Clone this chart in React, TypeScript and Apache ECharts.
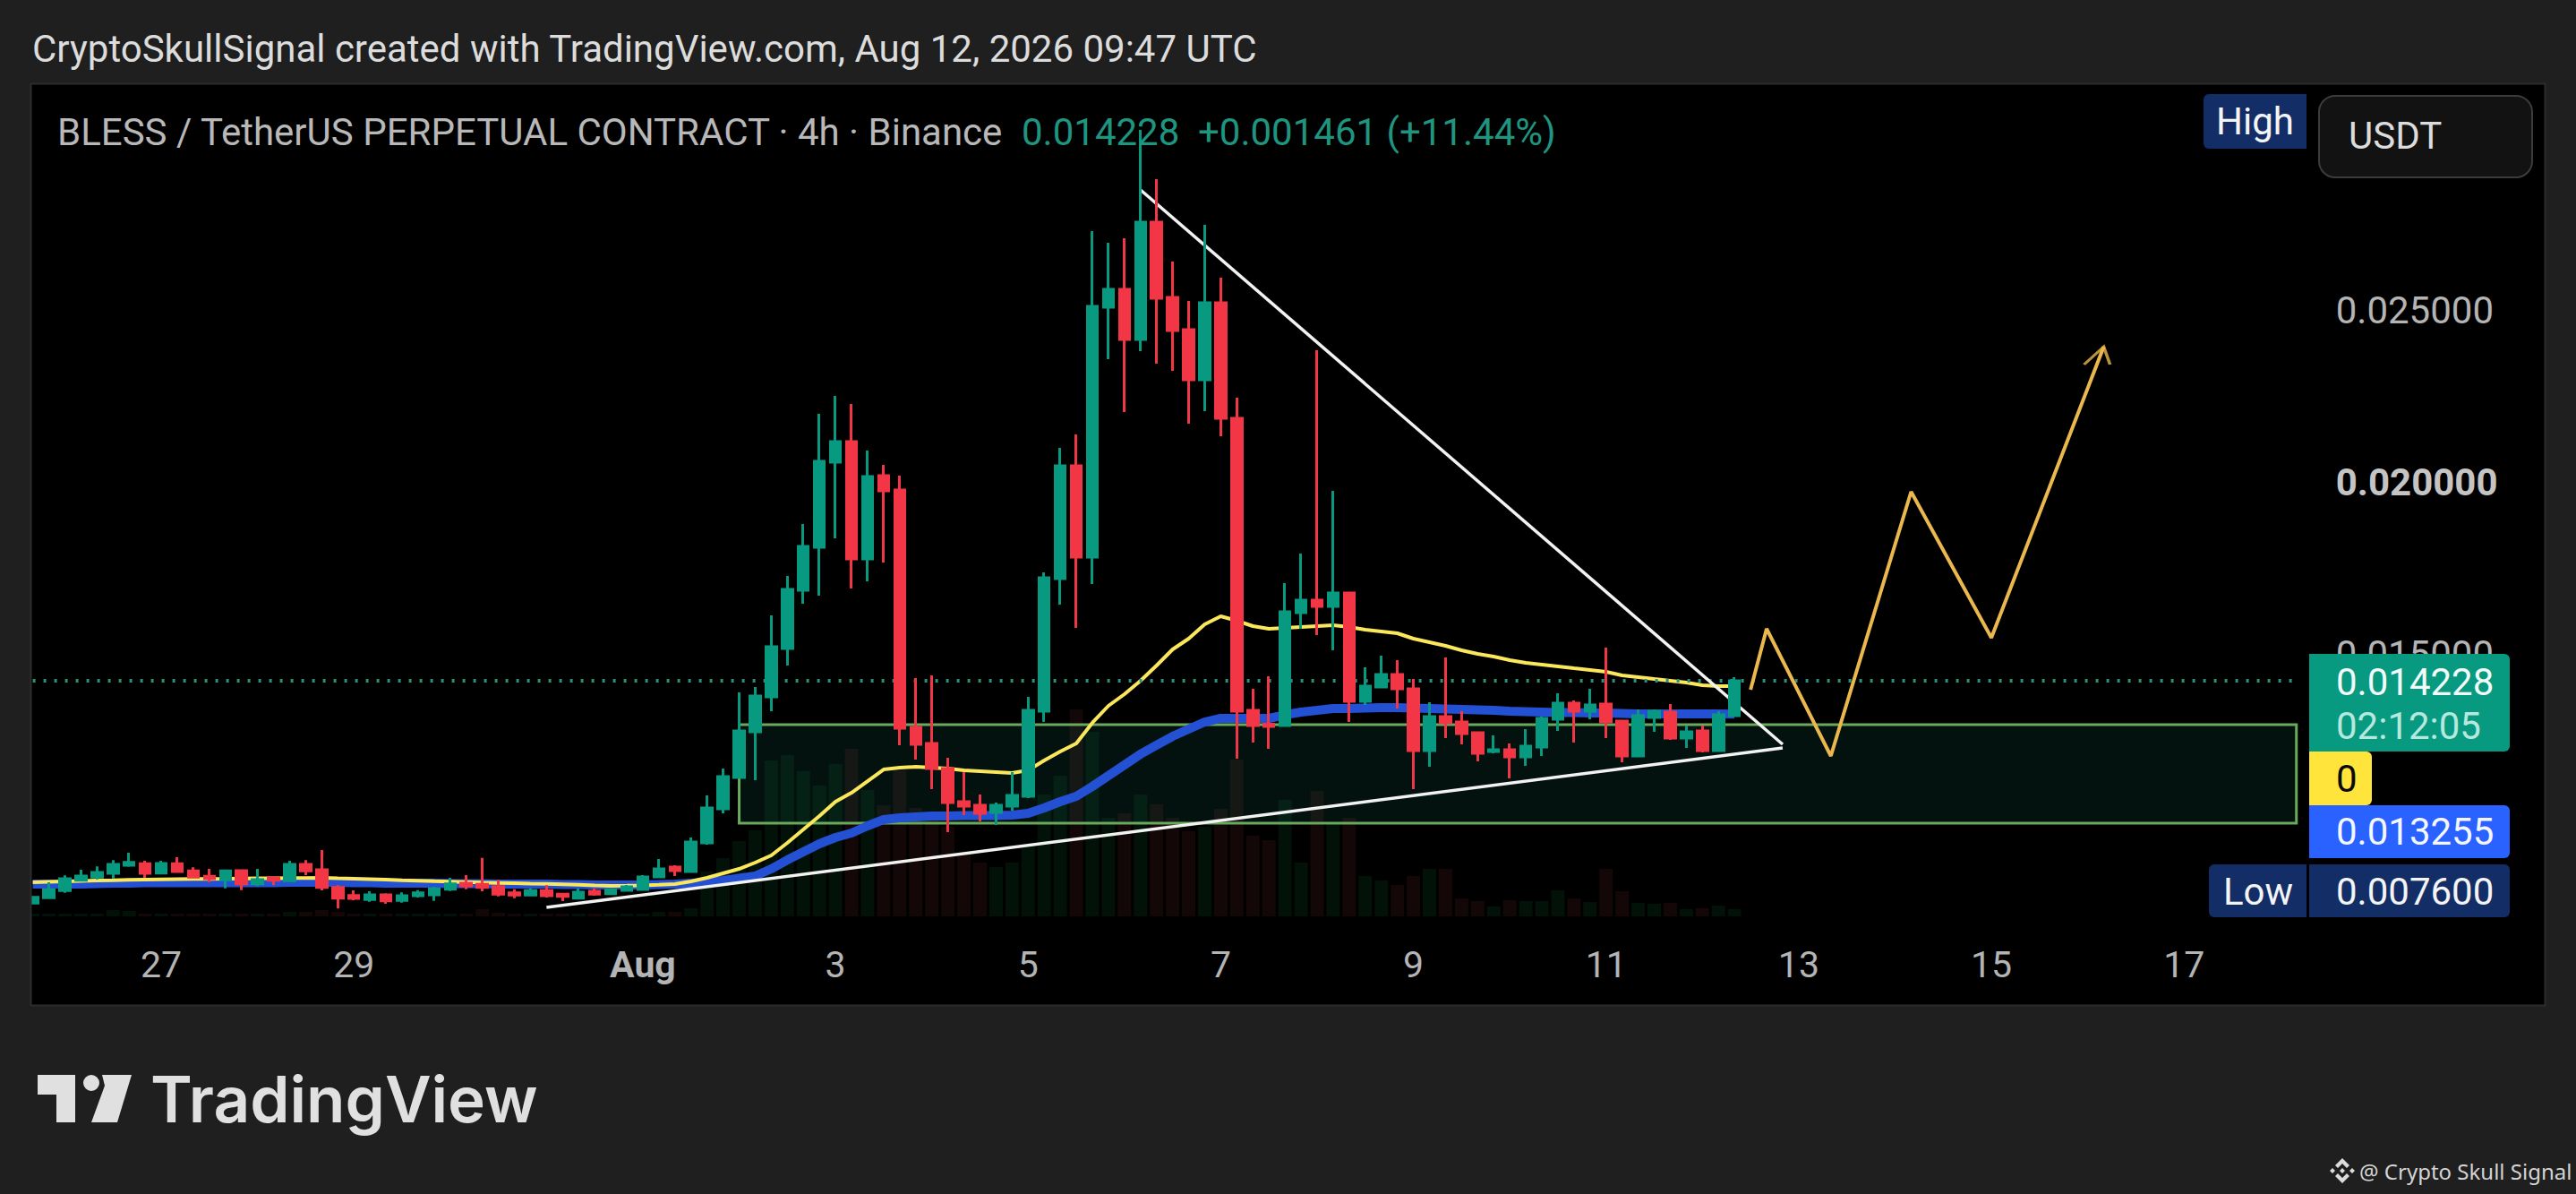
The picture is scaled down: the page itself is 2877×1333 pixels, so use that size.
import React, { useEffect, useRef } from "react";
import * as echarts from "echarts";

// Prices are in millionths of a USDT (1e-6).
const opens = [
  7753, 7909, 8118, 8422, 8509, 8622, 8857, 8900, 8631, 8900,
  8692, 8535, 8431, 8700, 8318, 8492, 8405, 8883, 8726, 8214,
  7979, 7857, 7996, 7831, 7970, 7996, 8161, 8335, 8300, 8231,
  8057, 7987, 8118, 8014, 7901, 8100, 8031, 8126, 8153, 8518,
  8805, 8674, 9509, 10500, 11413, 12743, 13760, 15168, 16863, 18115,
  20593, 21193, 17776, 20202, 19784, 12873, 12404, 11674, 10708, 10604,
  10395, 10578, 10865, 13342, 17202, 20488, 17828, 25105, 25626, 24166,
  27582, 25391, 24453, 22992, 25235, 21871, 13369, 12965, 12925, 16211,
  16576, 16394, 16785, 13629, 14047, 14412, 13995, 12195, 13186, 13029,
  12717, 12169, 12221, 12012, 12299, 13108, 13577, 13342, 13551, 13056,
  12038, 13160, 13316, 12560, 12769, 12195, 13212,
];
const closes = [
  7927, 8144, 8466, 8544, 8648, 8883, 8944, 8622, 8909, 8674,
  8509, 8466, 8692, 8318, 8440, 8422, 8883, 8692, 8214, 7901,
  7892, 7996, 7822, 7970, 8057, 8170, 8318, 8248, 8214, 8014,
  7987, 8118, 7970, 7953, 8074, 8014, 8144, 8231, 8518, 8752,
  8700, 9535, 10526, 11439, 12769, 13786, 15220, 16889, 18141, 20619,
  21193, 17776, 20176, 19758, 12847, 12378, 11674, 10682, 10578, 10369,
  10604, 10891, 13369, 17228, 20488, 17828, 25131, 25626, 24166, 27582,
  25365, 24427, 22992, 25235, 21871, 13342, 12925, 12900, 16237, 16576,
  16394, 16785, 13629, 14073, 14412, 13995, 12195, 13186, 13003, 12691,
  12117, 12221, 12012, 12325, 13134, 13577, 13342, 13525, 13029, 12038,
  13212, 13342, 12560, 12743, 12195, 13238, 14228,
];
const lows = [
  7753, 7901, 8057, 8405, 8448, 8466, 8813, 8492, 8622, 8657,
  8492, 8361, 8187, 8135, 8248, 8274, 8405, 8570, 8127, 7600,
  7840, 7796, 7735, 7770, 7918, 7822, 8109, 8161, 8100, 7953,
  7901, 7970, 7918, 7814, 7883, 7970, 8005, 8100, 8140, 8492,
  8544, 8660, 9456, 10369, 11413, 11334, 13342, 14673, 16472, 16707,
  18376, 16915, 17124, 17672, 12351, 11934, 11074, 9822, 10317, 10135,
  10030, 10448, 10812, 13029, 16446, 15768, 17046, 23592, 22053, 23827,
  23462, 23253, 21714, 22079, 21349, 11962, 12430, 12247, 12925, 15742,
  15560, 15116, 13029, 13525, 14021, 13421, 11074, 11726, 12560, 12378,
  11882, 12117, 11387, 11752, 12038, 12769, 12430, 13108, 12560, 11856,
  12038, 12743, 12508, 12273, 12143, 12195, 13186,
];
const highs = [
  7927, 8361, 8561, 8726, 8822, 9005, 9222, 8987, 8987, 9091,
  8796, 8752, 8726, 8718, 8752, 8535, 8987, 9005, 9300, 8274,
  8127, 8100, 8040, 8066, 8135, 8231, 8492, 8570, 9074, 8431,
  8161, 8187, 8274, 8040, 8187, 8187, 8187, 8283, 8570, 9039,
  8857, 9665, 10891, 11674, 13890, 14047, 16133, 17281, 18793, 22001,
  22523, 22288, 20932, 20514, 20202, 14307, 14386, 11986, 11569, 10917,
  10682, 11569, 13760, 17385, 21010, 21401, 27321, 26982, 27113, 30268,
  28834, 26435, 25287, 27504, 25965, 22471, 13995, 14360, 17072, 17933,
  23853, 19758, 16785, 14620, 14959, 14829, 14281, 13603, 14907, 13342,
  12717, 12638, 12404, 12821, 13186, 13864, 13655, 13995, 15194, 13056,
  13395, 13395, 13551, 12925, 12925, 13342, 14334,
];
const blueAverage = [
  8309, 8309, 8309, 8309, 8322, 8335, 8335, 8348, 8348, 8348,
  8348, 8348, 8348, 8348, 8348, 8348, 8361, 8361, 8361, 8361,
  8348, 8348, 8335, 8335, 8335, 8335, 8322, 8322, 8322, 8309,
  8309, 8309, 8309, 8296, 8296, 8283, 8283, 8283, 8283, 8296,
  8309, 8335, 8361, 8413, 8479, 8544, 8752, 9013, 9248, 9483,
  9665, 9796, 10004, 10187, 10239, 10265, 10291, 10291, 10304, 10304,
  10304, 10317, 10369, 10526, 10708, 10865, 11152, 11465, 11778, 12091,
  12352, 12612, 12821, 13029, 13134, 13134, 13134, 13134, 13238, 13316,
  13368, 13421, 13421, 13434, 13447, 13447, 13434, 13421, 13408, 13395,
  13382, 13368, 13342, 13329, 13316, 13303, 13303, 13290, 13290, 13277,
  13264, 13264, 13264, 13264, 13264, 13264, 13255,
];
const yellowAverage = [
  8361, 8374, 8387, 8400, 8413, 8421, 8431, 8439, 8447, 8452,
  8457, 8460, 8465, 8471, 8476, 8478, 8484, 8487, 8492, 8478,
  8465, 8452, 8439, 8423, 8408, 8392, 8379, 8366, 8353, 8345,
  8335, 8324, 8314, 8303, 8290, 8272, 8257, 8262, 8272, 8288,
  8309, 8387, 8492, 8622, 8752, 8935, 9144, 9509, 9899, 10291,
  10708, 10969, 11308, 11647, 11699, 11725, 11699, 11673, 11621, 11595,
  11569, 11543, 11621, 11908, 12169, 12404, 13004, 13499, 13838, 14229,
  14673, 15142, 15455, 15872, 16107, 15977, 15820, 15742, 15768, 15794,
  15820, 15846, 15794, 15716, 15664, 15611, 15455, 15351, 15247, 15116,
  15012, 14934, 14829, 14751, 14699, 14647, 14594, 14542, 14490, 14386,
  14334, 14281, 14229, 14177, 14099, 14073, 14073,
];
const volumes = [
  3, 3, 3, 3, 3, 7, 6, 3, 3, 3,
  3, 3, 3, 3, 3, 3, 5, 5, 7, 5,
  3, 3, 3, 3, 3, 3, 3, 3, 8, 4,
  3, 3, 3, 3, 3, 3, 3, 3, 3, 5,
  5, 9, 50, 65, 84, 96, 174, 180, 162, 146,
  170, 187, 141, 124, 163, 121, 116, 100, 70, 60,
  55, 60, 80, 136, 157, 231, 206, 110, 115, 136,
  125, 110, 95, 100, 120, 175, 90, 85, 130, 60,
  140, 105, 110, 45, 40, 35, 45, 53, 53, 20,
  17, 11, 18, 17, 17, 29, 20, 16, 53, 28,
  15, 14, 15, 8, 9, 12, 8,
];
const lastPrice = 14228;
const boxPriceTop = 12950;
const boxPriceBottom = 10080;
const boxFromIndex = 44;
const boxToIndex = 141;
const fallingTrend = [[69, 28521], [109, 12378]];
const risingTrend = [[32, 7631], [109, 12273]];
const projection = [[107, 13968], [108, 15742], [112, 12038], [117, 19732], [122, 15481], [129, 23957]];
const projectionTip = [[129, 23957]];
const dayLabels: Record<number, string> = {
  8: "27", 20: "29", 38: "Aug", 50: "3", 62: "5", 74: "7", 86: "9", 98: "11", 110: "13", 122: "15", 134: "17",
};
const priceTicks = [15000, 20000, 25000];
const title = "CryptoSkullSignal created with TradingView.com, Aug 12, 2026 09:47 UTC";
const legendName = "BLESS / TetherUS PERPETUAL CONTRACT · 4h · Binance";
const legendPrice = "0.014228";
const legendChange = "+0.001461 (+11.44%)";

const BAND_COUNT = 142;
const BAND = 17.93;
const GRID_LEFT = 27.64;
const categories = Array.from({ length: BAND_COUNT }, (_, i) => String(i));
const FONT = "Roboto";
const BG = "#1f1f1f";
const GREEN = "#089981";
const RED = "#f23645";

echarts.graphic.registerShape(
  "tvLogo",
  echarts.graphic.extendPath(
    "M0 0H42V53H21V22H0ZM51 9a9 9 0 1 0 18 0a9 9 0 1 0 -18 0ZM72 0H105L89 53H60L75 12Z",
    {},
  ),
);
echarts.graphic.registerShape(
  "binanceLogo",
  echarts.graphic.extendPath(
    "M14 11l3 3-3 3-3-3ZM3 11l3 3-3 3-3-3ZM25 11l3 3-3 3-3-3ZM14 0l8 8-3 3-5-5-5 5-3-3ZM14 28l8-8-3-3-5 5-5-5-3 3Z",
    {},
  ),
);

const rect = (x: number, y: number, w: number, h: number, fill: string, r: any = 0, z = 100) => ({
  type: "rect",
  z,
  silent: true,
  shape: { x, y, width: w, height: h, r },
  style: { fill },
});
const text = (
  x: number,
  y: number,
  t: string,
  fill: string,
  fontSize = 42,
  extra: any = {},
  z = 110,
) => ({
  type: "text",
  z,
  silent: true,
  x,
  y,
  style: {
    text: t,
    fill,
    fontFamily: FONT,
    fontSize,
    textAlign: "left",
    textVerticalAlign: "middle",
    verticalAlign: "middle",
    ...extra,
  },
});

function buildOption() {
  const candleData = opens.map((o, i) => [o, closes[i], lows[i], highs[i]]);
  const volumeData = volumes.map((v, i) => ({
    value: v,
    itemStyle: { color: closes[i] >= opens[i] ? "#021209" : "#140707" },
  }));
  return {
    animation: false,
    backgroundColor: BG,
    textStyle: { fontFamily: FONT },
    grid: [
      { left: GRID_LEFT, top: 94, width: BAND * BAND_COUNT, height: 946 },
      { left: GRID_LEFT, top: 723, width: BAND * BAND_COUNT, height: 300 },
    ],
    xAxis: [
      {
        type: "category",
        gridIndex: 0,
        data: categories,
        axisLine: { show: false },
        axisTick: { show: false },
        splitLine: { show: false },
        axisLabel: {
          interval: (i: number) => dayLabels[i] !== undefined,
          formatter: (_: string, i: number) =>
            dayLabels[i] === "Aug" ? `{b|${dayLabels[i]}}` : dayLabels[i] ?? "",
          color: "#b4b4b4",
          fontFamily: FONT,
          fontSize: 41,
          margin: 16,
          hideOverlap: false,
          rich: { b: { fontFamily: FONT, fontSize: 41, fontWeight: "bold", color: "#b4b4b4" } },
        },
      },
      { type: "category", gridIndex: 1, data: categories, show: false },
    ],
    yAxis: [
      {
        type: "value",
        gridIndex: 0,
        position: "right",
        min: 6927,
        max: 31598,
        axisLine: { show: false },
        axisTick: { show: false },
        splitLine: { show: false },
        axisLabel: {
          customValues: priceTicks,
          formatter: (v: number) => {
            const s = (v / 1e6).toFixed(6);
            return v === 20000 ? `{b|${s}}` : s;
          },
          color: "#b4b4b4",
          fontFamily: FONT,
          fontSize: 42,
          margin: 35,
          rich: { b: { fontFamily: FONT, fontSize: 42, fontWeight: "bold", color: "#c4c4c4" } },
        },
      },
      { type: "value", gridIndex: 1, position: "right", min: 0, max: 300, show: false },
    ],
    series: [
      {
        name: "Volume",
        type: "bar",
        xAxisIndex: 1,
        yAxisIndex: 1,
        barWidth: 15,
        z: 0,
        silent: true,
        data: volumeData,
      },
      {
        name: "Slow average",
        type: "line",
        xAxisIndex: 0,
        yAxisIndex: 0,
        z: 2,
        symbol: "none",
        silent: true,
        lineStyle: { color: "#2450d4", width: 10 },
        data: blueAverage,
        markArea: {
          silent: true,
          z: 1,
          itemStyle: { color: "rgba(30,150,120,0.12)", borderColor: "#69a95b", borderWidth: 3 },
          data: [
            [
              { xAxis: boxFromIndex, yAxis: boxPriceTop },
              { xAxis: boxToIndex, yAxis: boxPriceBottom },
            ],
          ],
        },
      },
      {
        name: "Fast average",
        type: "line",
        xAxisIndex: 0,
        yAxisIndex: 0,
        z: 3,
        symbol: "none",
        silent: true,
        lineStyle: { color: "#fbe75c", width: 4 },
        data: yellowAverage,
      },
      {
        name: "Last price",
        type: "line",
        xAxisIndex: 0,
        yAxisIndex: 0,
        z: 3,
        symbol: "none",
        silent: true,
        lineStyle: { color: "#2f8f7c", width: 4, type: [3, 9] },
        data: [[0, lastPrice], [141, lastPrice]],
      },
      {
        name: "Falling trend",
        type: "line",
        xAxisIndex: 0,
        yAxisIndex: 0,
        z: 4,
        symbol: "none",
        silent: true,
        lineStyle: { color: "#f2f2f2", width: 3.5 },
        data: fallingTrend,
      },
      {
        name: "Rising trend",
        type: "line",
        xAxisIndex: 0,
        yAxisIndex: 0,
        z: 4,
        symbol: "none",
        silent: true,
        lineStyle: { color: "#f2f2f2", width: 3.5 },
        data: risingTrend,
      },
      {
        name: "Projection",
        type: "line",
        xAxisIndex: 0,
        yAxisIndex: 0,
        z: 4,
        symbol: "none",
        silent: true,
        lineStyle: { color: "#eab84c", width: 4 },
        data: projection,
      },
      {
        name: "Projection tip",
        type: "scatter",
        xAxisIndex: 0,
        yAxisIndex: 0,
        z: 4,
        silent: true,
        symbol: "path://M0 20L22 0L29 20",
        symbolSize: [29, 20],
        symbolOffset: [-7.5, 10],
        itemStyle: { color: "transparent", borderColor: "#eab84c", borderWidth: 3 },
        data: projectionTip,
      },
      {
        name: "BLESS",
        type: "candlestick",
        xAxisIndex: 0,
        yAxisIndex: 0,
        z: 5,
        silent: true,
        barWidth: 12,
        itemStyle: {
          color: GREEN,
          color0: RED,
          borderColor: GREEN,
          borderColor0: RED,
          borderWidth: 3,
        },
        data: candleData,
      },
    ],
    graphic: {
      elements: [
        // Panel behind everything, mask on its left side, frame on top.
        rect(35, 94, 2807, 1028, "#000000", 0, -5),
        rect(0, 90, 34, 1040, BG, 0, 90),
        rect(2842, 90, 35, 1040, BG, 0, 90),
        {
          type: "rect",
          z: 91,
          silent: true,
          shape: { x: 34.5, y: 93.5, width: 2808, height: 1029 },
          style: { fill: "none", stroke: "#2c2c2c", lineWidth: 2 },
        },
        text(36, 54, title, "#dcdcdc", 42),
        text(64, 147, legendName, "#b8b8b8", 42),
        text(1141, 147, legendPrice, "#1f9580", 42),
        text(1338, 147, legendChange, "#1f9580", 42),
        rect(2461, 105, 115, 61, "#132e66", [6, 0, 0, 6]),
        text(2518.5, 135, "High", "#f4f4f4", 42, { textAlign: "center" }),
        {
          type: "rect",
          z: 100,
          silent: true,
          shape: { x: 2590, y: 107, width: 238, height: 91, r: 18 },
          style: { fill: "#121212", stroke: "#3c3c3c", lineWidth: 2 },
        },
        text(2623, 151, "USDT", "#dcdcdc", 42),
        rect(2579, 730, 224, 109, GREEN, [0, 6, 6, 0]),
        text(2609, 761, "0.014228", "#f2fbf9", 42),
        text(2609, 810, "02:12:05", "#b6e8dd", 42),
        rect(2579, 839, 70, 60, "#ffe53b", [0, 6, 6, 0]),
        text(2609, 869, "0", "#0a0a0a", 42),
        rect(2579, 899, 224, 59, "#2962ff", [0, 6, 6, 0]),
        text(2609, 928, "0.013255", "#f4f7ff", 42),
        rect(2467, 965, 109, 59, "#132e66", [6, 0, 0, 6]),
        text(2522, 995, "Low", "#f4f4f4", 42, { textAlign: "center" }),
        rect(2579, 965, 224, 59, "#132e66", [0, 6, 6, 0]),
        text(2609, 995, "0.007600", "#f4f4f4", 42),
        {
          type: "tvLogo",
          z: 100,
          silent: true,
          x: 42,
          y: 1200,
          style: { fill: "#e0e0e0" },
        },
        text(168, 1227, "TradingView", "#e0e0e0", 71, { fontFamily: "Inter", fontWeight: 600 }),
        {
          type: "binanceLogo",
          z: 100,
          silent: true,
          x: 2602,
          y: 1293,
          style: { fill: "#dcdcdc" },
        },
        text(2635, 1307, "@ Crypto Skull Signal", "#d4d4d4", 24, { fontFamily: "Noto Sans" }),
      ],
    },
  };
}

export default function App() {
  const ref = useRef<HTMLDivElement>(null);
  useEffect(() => {
    const chart = echarts.init(ref.current!, undefined, { renderer: "svg" });
    chart.setOption(buildOption() as any);
    return () => chart.dispose();
  }, []);
  return (
    <div
      ref={ref}
      style={{ position: "absolute", left: 0, top: 0, width: 2877, height: 1333 }}
    />
  );
}
